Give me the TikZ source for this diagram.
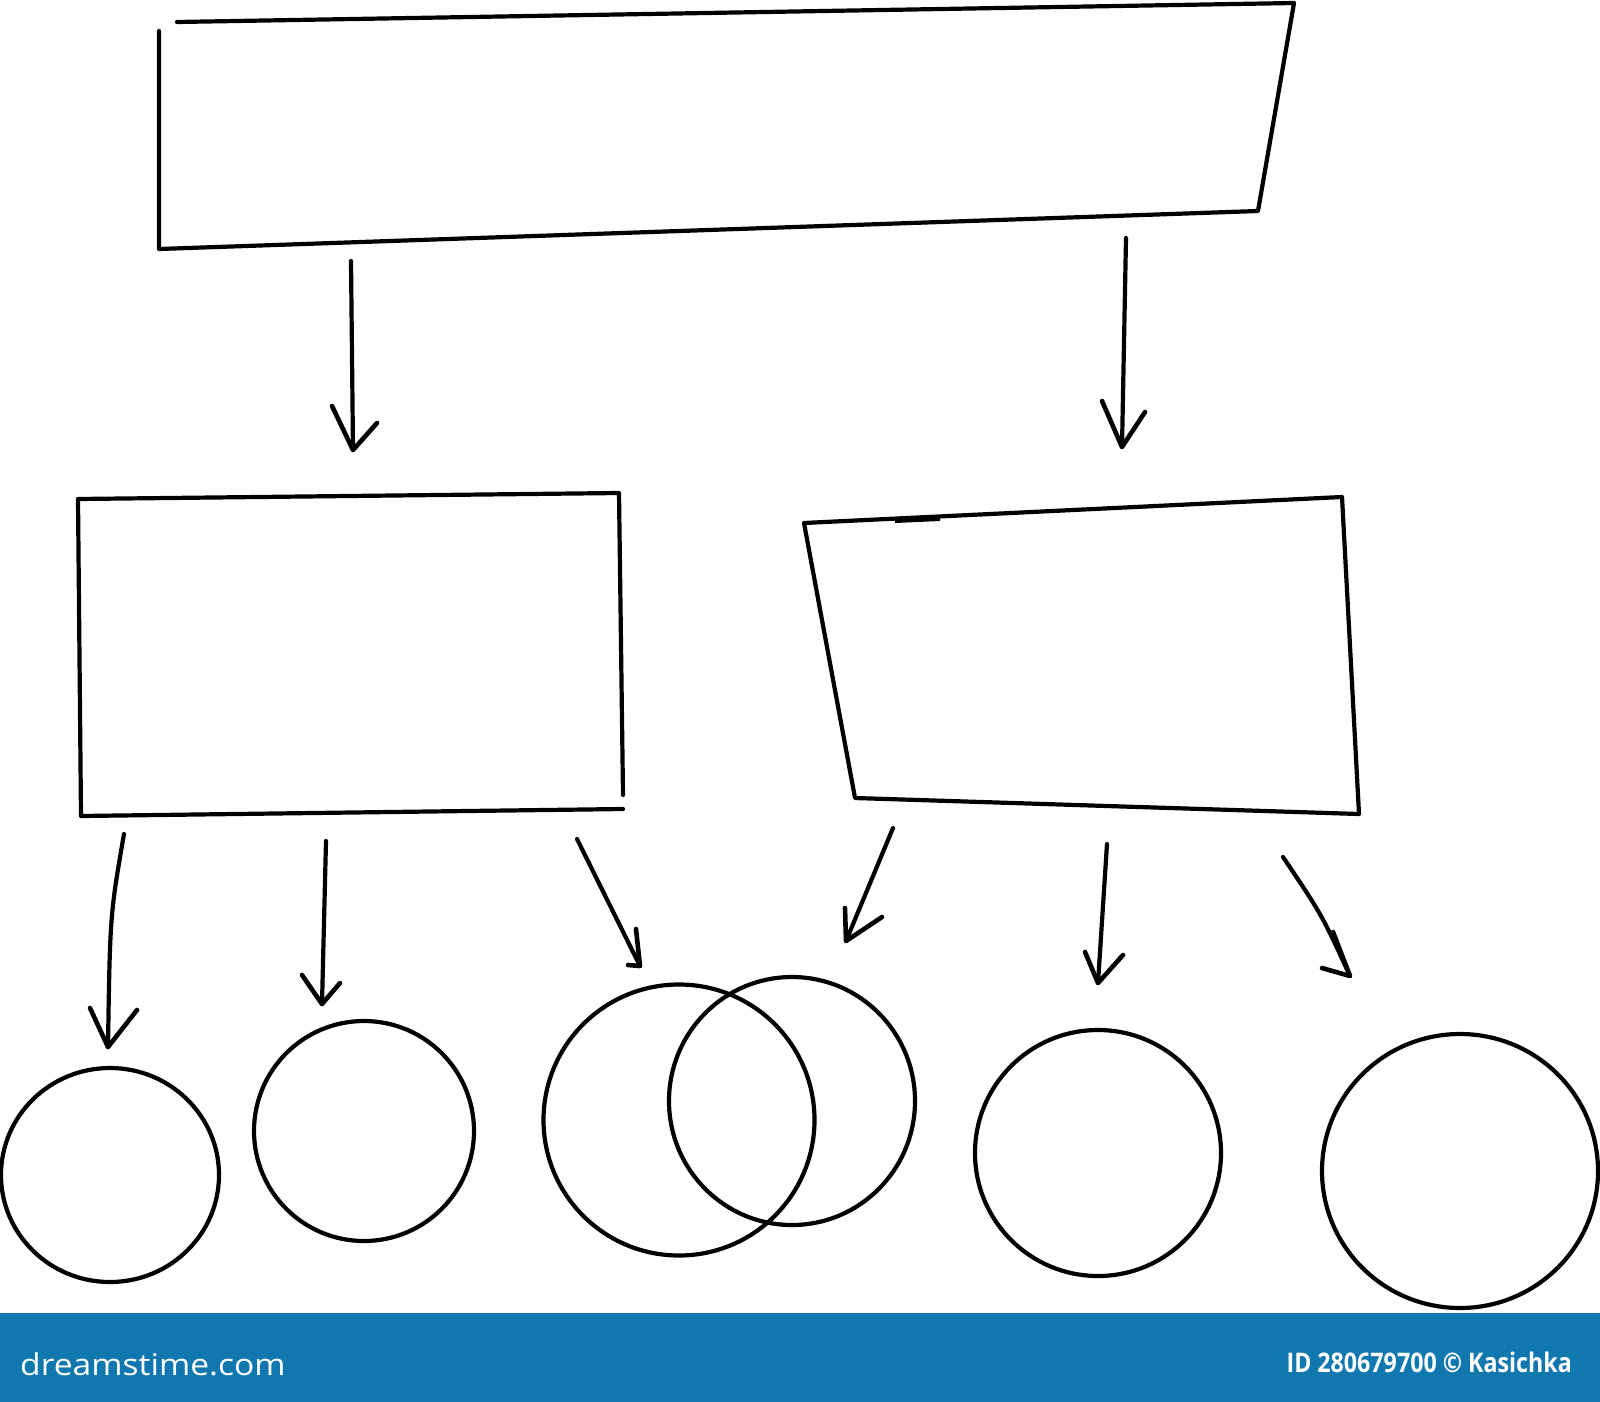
\documentclass[tikz,border=0pt]{standalone}
\usepackage{fontspec}
\setmainfont{DejaVu Sans}
\newfontfamily\barfont{Open Sans}
\definecolor{barblue}{RGB}{17,119,175}
\begin{document}
\begin{tikzpicture}[x=1pt,y=-1pt,
  ink/.style={line width=4.2pt,line cap=round,line join=round,black},
  barb/.style={line width=4.6pt,line cap=round,line join=round,black}]
\useasboundingbox (0,0) rectangle (1600,1402);
\fill[white] (0,0) rectangle (1600,1402);
% top box
\coordinate (t1) at (177,22);
\coordinate (t2) at (1294,3);
\coordinate (t3) at (1258,211);
\coordinate (t4) at (159,249);
\coordinate (t5) at (159,31);
\draw[ink] (t5) -- (t4) -- (t3) -- (t2) -- (t1);
% left box
\coordinate (l1) at (78,499);
\coordinate (l2) at (619,493);
\coordinate (l3) at (623,809);
\coordinate (l4) at (81,816);
\draw[ink] (l1) -- (l2) -- (623,795);
\draw[ink] (l1) -- (l4) -- (l3);
% right box
\coordinate (r1) at (804,523);
\coordinate (r2) at (1342,497);
\coordinate (r3) at (1359,814);
\coordinate (r4) at (855,798);
\draw[ink] (r1) -- (r2) -- (r3) -- (r4) -- cycle;
\draw[line width=6pt] (895,520) -- (940,518);
% circles
\draw[ink] (110,1175) ellipse [x radius=109,y radius=107];
\draw[ink] (364,1131) circle [radius=110];
\draw[ink] (679,1120) circle [radius=135.5];
\draw[ink] (792,1101) ellipse [x radius=123,y radius=124];
\draw[ink] (1098,1153) circle [radius=123];
\draw[ink] (1460,1171) ellipse [x radius=138,y radius=137];
% arrows top
\coordinate (A1s) at (351,261); \coordinate (A1e) at (353,450);
\draw[ink] (A1s) -- (A1e);
\draw[barb] (332,406) -- (A1e) -- (377,423);
\coordinate (A2s) at (1126,238); \coordinate (A2e) at (1122,447);
\draw[ink] (A2s) -- (A2e);
\draw[barb] (1102,401) -- (A2e) -- (1145,412);
% arrows bottom
\coordinate (B1s) at (124,834); \coordinate (B1e) at (108,1047);
\draw[ink] (B1s) .. controls (110,915) .. (B1e);
\draw[barb] (90,1008) -- (B1e) -- (137,1010);
\coordinate (B2s) at (326,841); \coordinate (B2e) at (322,1004);
\draw[ink] (B2s) -- (B2e);
\draw[barb] (302,975) -- (B2e) -- (340,983);
\coordinate (B3s) at (577,839); \coordinate (B3e) at (640,966);
\draw[ink] (B3s) -- (B3e);
\draw[barb] (636,929) -- (B3e) -- (628,965);
\coordinate (B4s) at (893,828); \coordinate (B4e) at (846,941);
\draw[ink] (B4s) -- (B4e);
\draw[barb] (845,908) -- (B4e) -- (882,917);
\coordinate (B5s) at (1107,844); \coordinate (B5e) at (1098,983);
\draw[ink] (B5s) -- (B5e);
\draw[barb] (1085,952) -- (B5e) -- (1123,955);
\coordinate (B6s) at (1283,857); \coordinate (B6e) at (1350,976);
\draw[ink] (B6s) .. controls (1322,915) .. (B6e);
\draw[barb] (1333,932) -- (B6e) -- (1322,968);
% bottom bar
\fill[barblue] (0,1313) rectangle (1600,1402);
\node[anchor=west,text=white,font=\barfont\fontsize{30}{34}\selectfont,inner sep=0pt,xscale=1.12] (logo) at (20,1364) {dreamstime.com};
\node[anchor=east,text=white,font=\barfont\bfseries\fontsize{27}{30}\selectfont,inner sep=0pt,xscale=0.86] (idtext) at (1572,1362) {ID 280679700 © Kasichka};
\end{tikzpicture}
\end{document}
